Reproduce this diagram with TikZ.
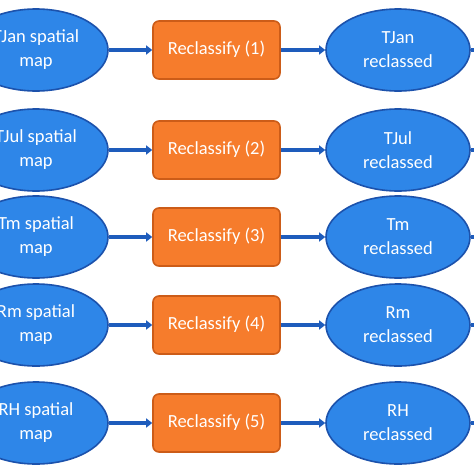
\documentclass[tikz,border=0pt]{standalone}
\usepackage{fontspec}
\setmainfont{Carlito}
\usetikzlibrary{arrows.meta,shapes.geometric}
\definecolor{mapblue}{RGB}{46,134,232}
\definecolor{mapedge}{RGB}{28,82,172}
\definecolor{linkblue}{RGB}{30,92,188}
\definecolor{stepfill}{RGB}{246,124,44}
\definecolor{stepedge}{RGB}{204,92,24}
\tikzset{
  mapnode/.style={ellipse,draw=mapedge,line width=1.6pt,fill=mapblue,text=white,
    minimum width=144pt,minimum height=82pt,inner sep=0pt,align=center,
    font=\fontsize{18.5}{24}\selectfont},
  stepbox/.style={rectangle,rounded corners=6pt,draw=stepedge,line width=1.6pt,
    fill=stepfill,text=white,minimum width=127pt,minimum height=58pt,
    font=\fontsize{18.5}{24}\selectfont},
  link/.style={draw=linkblue,line width=3.5pt,-{Triangle[length=6pt,width=9pt]}}
}
\begin{document}
\begin{tikzpicture}[x=1pt,y=-1pt]
\useasboundingbox (0,0) rectangle (474,474);
\clip (0,0) rectangle (474,474);
% One row for each variable
\foreach \i/\yy/\var/\num in {1/50/TJan/1, 2/150/TJul/2, 3/237/Tm/3, 4/325/Rm/4, 5/423/RH/5} {
  \node[mapnode] (in\i) at (36,\yy) {\var{} spatial\\map};
  \node[stepbox] (re\i) at (216.5,\yy) {\raisebox{4pt}{Reclassify (\num)}};
  \node[mapnode] (out\i) at (398,\yy) {\var\\reclassed};
  \coordinate (next\i) at (490,\yy);
  % Draw links
  \draw[link] (in\i) -- (re\i);
  \draw[link] (re\i) -- (out\i);
  \draw[draw=linkblue,line width=3.5pt] (out\i) -- (next\i);
}
\end{tikzpicture}
\end{document}
